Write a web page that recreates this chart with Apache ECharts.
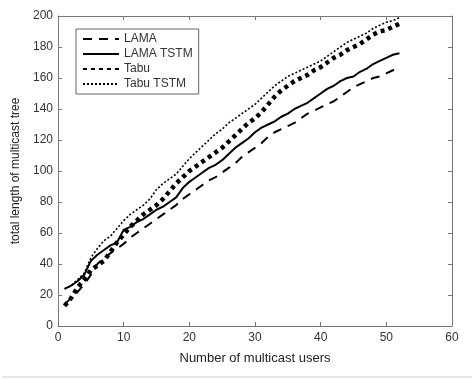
<!DOCTYPE html>
<html>
<head>
<meta charset="utf-8">
<script src="https://cdn.jsdelivr.net/npm/echarts@6/dist/echarts.min.js"></script>
<style>html,body{margin:0;padding:0;background:#fff}#c{width:474px;height:380px}</style>
</head>
<body>
<div id="c"></div>
<script>
var users = [];
for (var i = 1; i <= 52; i++) users.push(i);
var lama = [14,18,22,27,33,40,44,47,50,53,57,60,63,66,69,72,75,78,82,85,88,91,94,96,99,102,105,109,112,115,118,122,125,127,129,131,134,137,139,141,143,145,148,151,154,156,158,160,161,163,165,166];
var lamaTstm = [24,26,29,33,42,46,49,52,54,62,64,67,69,72,75,77,80,83,89,93,96,99,102,104,107,111,115,118,121,125,128,130,132,135,137,140,142,144,147,150,153,155,158,160,161,164,166,169,171,173,175,176];
var tabu = [13,18,25,30,36,39,42,48,54,59,64,68,72,75,78,82,87,92,96,100,103,106,109,112,115,119,123,127,131,134,138,143,148,152,155,158,160,162,165,167,170,173,175,178,180,182,185,188,190,191,193,195];
var tabuTstm = [24,26,30,34,44,50,55,58,63,68,72,75,78,82,88,92,95,98,103,108,112,116,120,124,127,131,134,137,140,143,147,151,155,158,161,163,165,167,169,171,174,177,180,183,185,187,189,192,194,196,197,199];
var seriesNames = ['LAMA', 'LAMA TSTM', 'Tabu', 'Tabu TSTM'];
var xTicks = [0, 10, 20, 30, 40, 50, 60];
var yTicks = [0, 20, 40, 60, 80, 100, 120, 140, 160, 180, 200];

function pairs(arr) { return arr.map(function (v, i) { return [users[i], v]; }); }
var axisCol = '#777';
var font = 'Liberation Sans, Arial, sans-serif';
var chart = echarts.init(document.getElementById('c'), null, {renderer: 'canvas'});
var styles = [
  {width: 2, type: [9, 7]},
  {width: 2, type: 'solid'},
  {width: 4.5, type: [4, 4]},
  {width: 1.6, type: [2, 2]}
];
var datas = [lama, lamaTstm, tabu, tabuTstm];
var series = seriesNames.map(function (n, k) {
  return {
    name: n, type: 'line', data: pairs(datas[k]), showSymbol: false, symbol: 'none',
    xAxisIndex: 0, yAxisIndex: 0,
    itemStyle: {color: '#000'},
    lineStyle: {color: '#000', width: styles[k].width, type: styles[k].type},
    z: 3 + k
  };
});
series.push({type: 'line', data: [], xAxisIndex: 1, yAxisIndex: 1, silent: true});
chart.setOption({
  animation: false,
  backgroundColor: '#fff',
  grid: {left: 58, right: 22, top: 16, bottom: 54},
  legend: {
    orient: 'vertical', left: 76, top: 29,
    backgroundColor: '#fff', borderColor: '#666', borderWidth: 1,
    padding: [4, 6, 4, 6], itemGap: 3, itemWidth: 36, itemHeight: 12,
    itemStyle: {opacity: 0},
    textStyle: {fontFamily: font, fontSize: 12, color: '#333'},
    data: seriesNames
  },
  xAxis: [{
    type: 'value', min: 0, max: 60, interval: 10,
    name: 'Number of multicast users', nameLocation: 'middle', nameGap: 26,
    nameTextStyle: {fontFamily: font, fontSize: 13, color: '#222'},
    axisLine: {lineStyle: {color: axisCol}},
    axisTick: {inside: true, length: 4, lineStyle: {color: axisCol}},
    axisLabel: {fontFamily: font, fontSize: 12, color: '#333', margin: 6},
    splitLine: {show: false}
  }, {
    type: 'value', position: 'top', min: 0, max: 60, interval: 10,
    axisLine: {show: true, onZero: false, lineStyle: {color: axisCol}},
    axisTick: {show: true, inside: true, length: 4, lineStyle: {color: axisCol}},
    axisLabel: {show: false}, splitLine: {show: false}
  }],
  yAxis: [{
    type: 'value', min: 0, max: 200, interval: 20,
    name: 'total length of multicast tree', nameLocation: 'middle', nameGap: 32,
    nameTextStyle: {fontFamily: font, fontSize: 12, color: '#222'},
    axisLine: {show: true, lineStyle: {color: axisCol}},
    axisTick: {show: true, inside: true, length: 4, lineStyle: {color: axisCol}},
    axisLabel: {fontFamily: font, fontSize: 12, color: '#333', margin: 5},
    splitLine: {show: false}
  }, {
    type: 'value', position: 'right', min: 0, max: 200, interval: 20,
    axisLine: {show: true, onZero: false, lineStyle: {color: axisCol}},
    axisTick: {show: true, inside: true, length: 4, lineStyle: {color: axisCol}},
    axisLabel: {show: false}, splitLine: {show: false}
  }],
  series: series,
  graphic: [{
    type: 'line', shape: {x1: 2, y1: 377, x2: 472, y2: 377},
    style: {stroke: '#ccc', lineWidth: 1}, silent: true
  }]
});
</script>
</body>
</html>
